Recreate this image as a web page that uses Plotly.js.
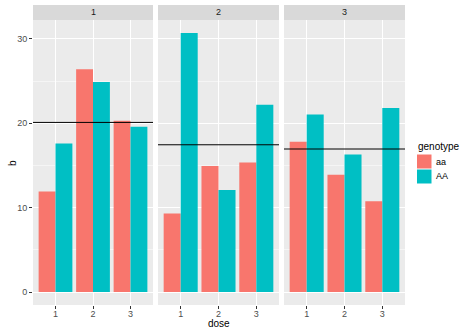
<!DOCTYPE html>
<html><head>
<script src="https://cdn.plot.ly/plotly-3.0.1.min.js"></script>
</head>
<body style="margin:0;background:#fff">
<div id="chart" style="width:474px;height:335px"></div>
<script>
// ---- data ----
const panels = ['1', '2', '3'];
const doses = [1, 2, 3];
const genotypes = ['aa', 'AA'];
const aaValues = [
  [11.9, 26.4, 20.3],   // panel 1
  [9.3, 14.95, 15.35],  // panel 2
  [17.8, 13.9, 10.75]   // panel 3
];
const AAValues = [
  [17.6, 24.9, 19.6],
  [30.7, 12.1, 22.2],
  [21.05, 16.3, 21.8]
];
const panelMeans = [20.1, 17.45, 16.95];
const colors = {aa: '#F8766D', AA: '#00BFC4'};
const xTitle = 'dose', yTitle = 'b', legendTitle = 'genotype';

// ---- layout geometry ----
const W = 474, H = 335;
const M = {l: 33, r: 69, t: 20, b: 30, autoexpand: false};
const PW = W - M.l - M.r;
const PH = H - M.t - M.b;
const panelPx = [[33, 153], [158, 279], [284, 405]];
const domains = panelPx.map(p => [(p[0] - M.l) / PW, (p[1] - M.l) / PW]);
const px2x = px => (px - M.l) / PW;
const py2y = py => (M.t + PH - py) / PH;

const traces = [];
const shapes = [];
const annotations = [];
const layout = {
  width: W, height: H,
  margin: M,
  paper_bgcolor: '#FFFFFF',
  plot_bgcolor: '#EBEBEB',
  font: {family: 'Liberation Sans, Arial, sans-serif', size: 9, color: '#4D4D4D'},
  barmode: 'group',
  bargap: 0.1,
  bargroupgap: 0,
  showlegend: false
};

panels.forEach((p, i) => {
  const sfx = i === 0 ? '' : String(i + 1);
  const xa = 'x' + sfx, ya = 'y' + sfx;
  traces.push({
    type: 'bar', x: doses, y: aaValues[i], name: genotypes[0],
    xaxis: xa, yaxis: ya, marker: {color: colors.aa, line: {width: 0}}
  });
  traces.push({
    type: 'bar', x: doses, y: AAValues[i], name: genotypes[1],
    xaxis: xa, yaxis: ya, marker: {color: colors.AA, line: {width: 0}}
  });
  layout['xaxis' + sfx] = {
    domain: domains[i], anchor: ya,
    range: [0.4, 3.6], tickmode: 'array', tickvals: doses, ticktext: doses.map(String),
    showgrid: true, gridcolor: '#FFFFFF', gridwidth: 1,
    zeroline: false, showline: false,
    ticks: 'outside', ticklen: 3, tickcolor: '#333333', tickwidth: 1,
    ticklabelstandoff: -3,
    tickfont: {size: 9, color: '#4D4D4D'},
    title: {text: ''},
    fixedrange: true
  };
  const yax = {
    domain: [0, 1], anchor: xa,
    range: [-1.535, 32.235],
    tickmode: 'linear', tick0: 0, dtick: 10,
    showgrid: true, gridcolor: '#FFFFFF', gridwidth: 1,
    minor: {dtick: 5, tick0: 0, showgrid: true, gridcolor: '#FFFFFF', gridwidth: 0.5, ticks: ''},
    zeroline: false, showline: false,
    title: {text: ''},
    fixedrange: true
  };
  if (i === 0) {
    Object.assign(yax, {
      ticks: 'outside', ticklen: 3, tickcolor: '#333333', tickwidth: 1,
      tickfont: {size: 9, color: '#4D4D4D'}
    });
  } else {
    Object.assign(yax, {matches: 'y', showticklabels: false, ticks: ''});
  }
  layout['yaxis' + sfx] = yax;

  // strip
  shapes.push({
    type: 'rect', xref: 'paper', yref: 'paper',
    x0: domains[i][0], x1: domains[i][1],
    y0: 1, y1: py2y(5),
    fillcolor: '#D9D9D9', line: {width: 0}, layer: 'below'
  });
  annotations.push({
    text: p, xref: 'paper', yref: 'paper',
    x: (domains[i][0] + domains[i][1]) / 2, y: py2y(12.5),
    xanchor: 'center', yanchor: 'middle', showarrow: false,
    font: {size: 9, color: '#1A1A1A'}
  });
  // mean line
  shapes.push({
    type: 'line', xref: xa + ' domain', yref: ya,
    x0: 0, x1: 1, y0: panelMeans[i], y1: panelMeans[i],
    line: {color: '#000000', width: 1}
  });
});

// axis titles
annotations.push({
  text: xTitle, xref: 'paper', yref: 'paper',
  x: px2x(219), y: py2y(323), xanchor: 'center', yanchor: 'middle',
  showarrow: false, font: {size: 10, color: '#000'}
});
annotations.push({
  text: yTitle, xref: 'paper', yref: 'paper',
  x: px2x(12), y: py2y(163), xanchor: 'center', yanchor: 'middle',
  textangle: -90, showarrow: false, font: {size: 10, color: '#000'}
});

// manual ggplot-style legend
annotations.push({
  text: legendTitle, xref: 'paper', yref: 'paper',
  x: px2x(415.5), y: py2y(146), xanchor: 'left', yanchor: 'middle',
  showarrow: false, font: {size: 10, color: '#000'}
});
genotypes.forEach((g, k) => {
  const top = 154 + k * 15;
  shapes.push({
    type: 'rect', xref: 'paper', yref: 'paper',
    x0: px2x(417), x1: px2x(431.5), y0: py2y(top + 0.5), y1: py2y(top + 14.5),
    fillcolor: colors[g], line: {width: 0}
  });
  annotations.push({
    text: g, xref: 'paper', yref: 'paper',
    x: px2x(434), y: py2y(top + 7.5), xanchor: 'left', yanchor: 'middle',
    showarrow: false, font: {size: 9, color: '#000'}
  });
});

layout.shapes = shapes;
layout.annotations = annotations;

Plotly.newPlot('chart', traces, layout, {displayModeBar: false, staticPlot: true});
</script>
</body></html>
